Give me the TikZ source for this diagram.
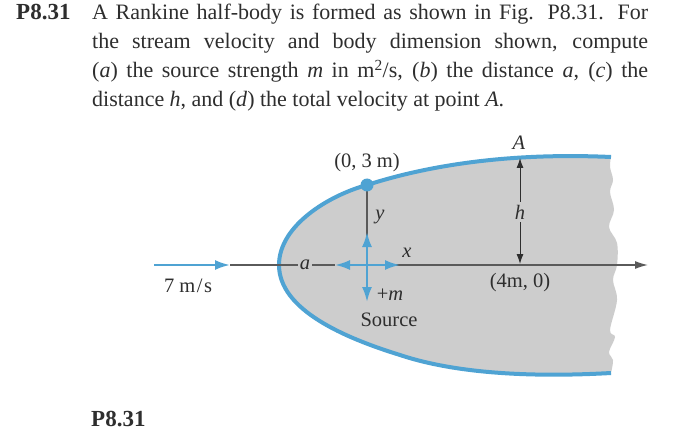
\documentclass[tikz,border=0pt]{standalone}
\usepackage{fontspec}
\setmainfont{Liberation Serif}
\usetikzlibrary{arrows.meta}
\definecolor{flow}{HTML}{4FA3D3}
\definecolor{body}{HTML}{CDCDCD}
\definecolor{ink}{HTML}{2E2E2E}
\definecolor{axis}{HTML}{5A5A5A}
\tikzset{
  para/.style={anchor=base west,inner sep=0pt,font=\fontsize{22}{24}\selectfont,text=ink},
  parabold/.style={para,font=\fontsize{23}{24}\selectfont\bfseries},
  fig/.style={inner sep=0pt,font=\fontsize{20.5}{22}\selectfont,text=ink},
  figit/.style={fig,font=\fontsize{20.5}{22}\selectfont\itshape},
  bluearrow/.style={draw=flow,line width=2.2pt,-{Latex[length=15pt,width=10pt]}},
  dim/.style={draw=ink,line width=1pt,-{Latex[length=10pt,width=7pt]}},
  axisline/.style={draw=axis,line width=1.3pt},
}
\begin{document}
\begin{tikzpicture}[x=1pt,y=-1pt]
\useasboundingbox (0,0) rectangle (700,438);
\fill[white] (0,0) rectangle (700,438);
% body
\fill[body] plot[smooth,tension=0.6] coordinates {(611,157) (610,167) (613,180) (610,192) (614,210) (609,227) (617,243) (617,265) (613,280) (617,300) (610,330) (615,337) (609,352) (613,360) (611,373)}
  .. controls (540,377) and (460,375) .. (400,355)
  .. controls (345,338) and (279,310) .. (279,265)
  .. controls (279,225) and (330,195) .. (367,185)
  .. controls (420,168) and (500,152) .. (611,157) -- cycle;
% outline
\draw[draw=flow,line width=4pt] (611,157) .. controls (500,152) and (420,168) .. (367,185)
  .. controls (330,195) and (279,225) .. (279,265)
  .. controls (279,310) and (345,338) .. (400,355)
  .. controls (460,375) and (540,377) .. (611,373);
% coordinates
\coordinate (start) at (154,265);
\coordinate (flowtip) at (230,265);
\coordinate (axisend) at (648,265);
\coordinate (src) at (367,265);
\coordinate (top) at (367,185);
\coordinate (ptA) at (520,158);
\coordinate (ptB) at (520,264);
\coordinate (upTip) at (367,232);
\coordinate (downTip) at (367,302);
\coordinate (leftTip) at (335,265);
\coordinate (rightTip) at (400,265);
% labels needing to be known first
\node[figit,inner sep=3pt] (hlab) at (520,212) {h};
\node[figit,inner sep=2pt] (alab) at (305,265) {a};
% axis
\draw[axisline] (flowtip) -- (alab);
\draw[axisline] (alab) -- (leftTip);
\draw[axisline,-{Latex[length=13pt,width=8pt]}] (src) -- (axisend);
\draw[axisline] (top) -- (src);
\draw[bluearrow] (start) -- (flowtip);
% source arrows
\draw[bluearrow] (src) -- (upTip);
\draw[bluearrow] (src) -- (downTip);
\draw[bluearrow] (src) -- (leftTip);
\draw[bluearrow] (src) -- (rightTip);
\fill[flow] (top) circle (6.5pt);
% h dimension
\draw[dim] (hlab) -- (ptA);
\draw[dim] (hlab) -- (ptB);
% figure labels
\node[figit] (xlab) at (407,253) {x};
\node[figit] (ylab) at (380,217) {y};
\node[figit] (Alab) at (519,143) {A};
\node[fig] (c03) at (367,163) {(0, 3 m)};
\node[fig] (v7) at (188,286) {7 m\kern1.5pt/\kern1.5pt s};
\node[fig] (c40) at (520,283) {(4m, 0)};
\node[fig] (pm) at (390,295) {+\textit{m}};
\node[fig] (srclab) at (389,320) {Source};
% paragraph
\node[parabold] (num) at (16,20) {P8.31};
\node[para] (l1) at (92,20) {\makebox[556pt][s]{A Rankine half-body is formed as shown in Fig. P8.31. For}};
\node[para] (l2) at (92,49) {\makebox[556pt][s]{the stream velocity and body dimension shown, compute}};
\node[para] (l3) at (92,78) {\makebox[556pt][s]{(\textit{a}) the source strength \textit{m} in m\textsuperscript{2}/s, (\textit{b}) the distance \textit{a}, (\textit{c}) the}};
\node[para] (l4) at (92,107) {\makebox[412pt][s]{distance \textit{h}, and (\textit{d}) the total velocity at point \textit{A}.}};
\node[parabold] (num2) at (91,426) {P8.31};
\end{tikzpicture}
\end{document}
